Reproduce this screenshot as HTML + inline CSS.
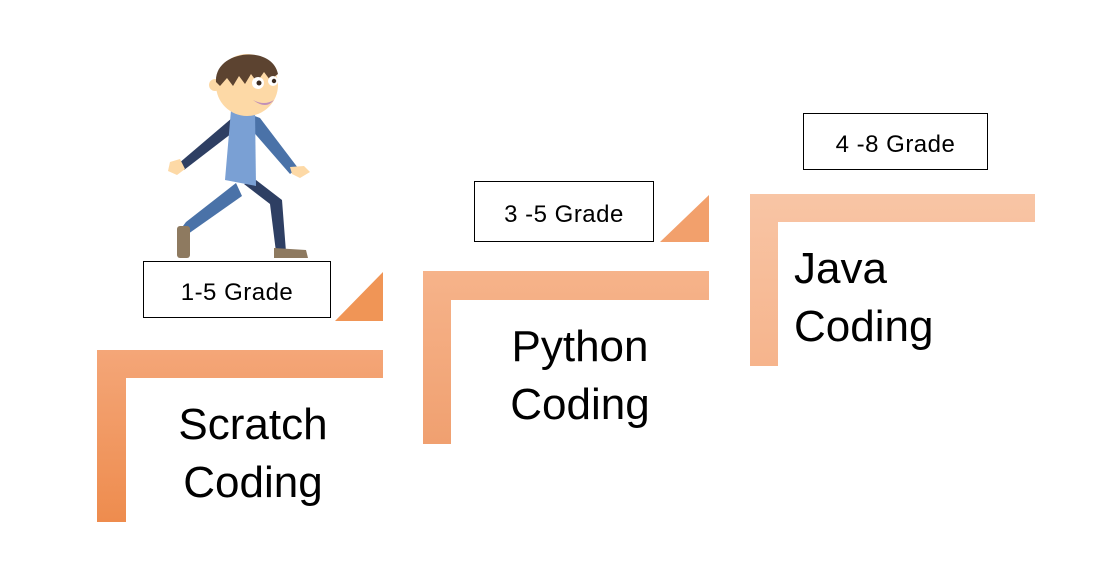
<!DOCTYPE html>
<html><head><style>
body{margin:0;width:1094px;height:574px;background:#fff;position:relative;overflow:hidden;font-family:"Liberation Sans","DejaVu Sans",sans-serif}
.b{position:absolute;border:1px solid #000;background:#fff;font-size:24px;color:#000;display:flex;align-items:center;justify-content:center;box-sizing:border-box;padding-top:6px}
.t{position:absolute;font-size:44px;line-height:58px;color:#000;text-align:center}
</style></head><body>
<svg width="1094" height="574" style="position:absolute;left:0;top:0">
<defs>
<linearGradient id="g1" x1="0" y1="0" x2="0" y2="1"><stop offset="0" stop-color="#f4a678"/><stop offset="1" stop-color="#ee8c4e"/></linearGradient>
<linearGradient id="g2" x1="0" y1="0" x2="0" y2="1"><stop offset="0" stop-color="#f6b38a"/><stop offset="1" stop-color="#f0a070"/></linearGradient>
<linearGradient id="g3" x1="0" y1="0" x2="0" y2="1"><stop offset="0" stop-color="#f8c5a5"/><stop offset="1" stop-color="#f6b48c"/></linearGradient>
</defs>
<polygon points="97,350 383,350 383,378 126,378 126,522 97,522" fill="url(#g1)"/>
<polygon points="383,272 383,321 335,321" fill="#f09556"/>
<polygon points="423,271 709,271 709,300 451,300 451,444 423,444" fill="url(#g2)"/>
<polygon points="709,195 709,242 660,242" fill="#f2a06c"/>
<polygon points="750,194 1035,194 1035,222 778,222 778,366 750,366" fill="url(#g3)"/>
<path d="M232,118 L178,164 L184,170 L236,130Z" fill="#2e3f63"/>
<path d="M170,162 l10,-3 l5,10 l-8,6 l-9,-4Z" fill="#fdd9a6"/>
<path d="M236,183 L186,222 L180,230 L188,234 L242,196Z" fill="#4a72a8"/>
<path d="M244,184 L270,204 L276,252 L286,252 L282,200 L256,180Z" fill="#2e3f63"/>
<rect x="177" y="226" width="13" height="32" rx="3" fill="#8e7a60"/>
<path d="M274,248 L306,250 L308,258 L274,258Z" fill="#8e7a60"/>
<path d="M252,115 L260,118 L298,168 L290,174 L250,128Z" fill="#4a72a8"/>
<path d="M290,167 l14,-1 l6,6 l-10,6 l-8,-4Z" fill="#fdd9a6"/>
<polygon points="231,110 255,110 256,186 225,180" fill="#7aa0d4"/>
<circle cx="247" cy="85" r="31" fill="#fdd9a6"/>
<circle cx="215" cy="85" r="6" fill="#fdd9a6"/>
<path d="M216,82 C214,50 272,44 278,74 L270,80 L264,72 L257,82 L251,74 L245,84 L239,76 L233,86 L227,78 L220,86Z" fill="#5c4330"/>
<circle cx="258" cy="83" r="6" fill="#fff"/><circle cx="259" cy="83" r="2.5" fill="#3a2a20"/>
<circle cx="273" cy="81" r="5" fill="#fff"/><circle cx="274" cy="81" r="2.2" fill="#3a2a20"/>
<path d="M253,100 Q264,106 274,100 Q266,110 253,100Z" fill="#c090b8"/>
</svg>
<div class="b" style="left:143px;top:261px;width:188px;height:57px;letter-spacing:0.5px">1-5 Grade</div>
<div class="b" style="left:474px;top:181px;width:180px;height:61px;letter-spacing:0.5px">3 -5 Grade</div>
<div class="b" style="left:803px;top:113px;width:185px;height:57px;letter-spacing:0.5px">4 -8 Grade</div>
<div class="t" style="left:153px;top:396px;width:200px">Scratch<br>Coding</div>
<div class="t" style="left:480px;top:318px;width:200px">Python<br>Coding</div>
<div class="t" style="left:794px;top:240px;text-align:left">Java<br>Coding</div>
</body></html>
